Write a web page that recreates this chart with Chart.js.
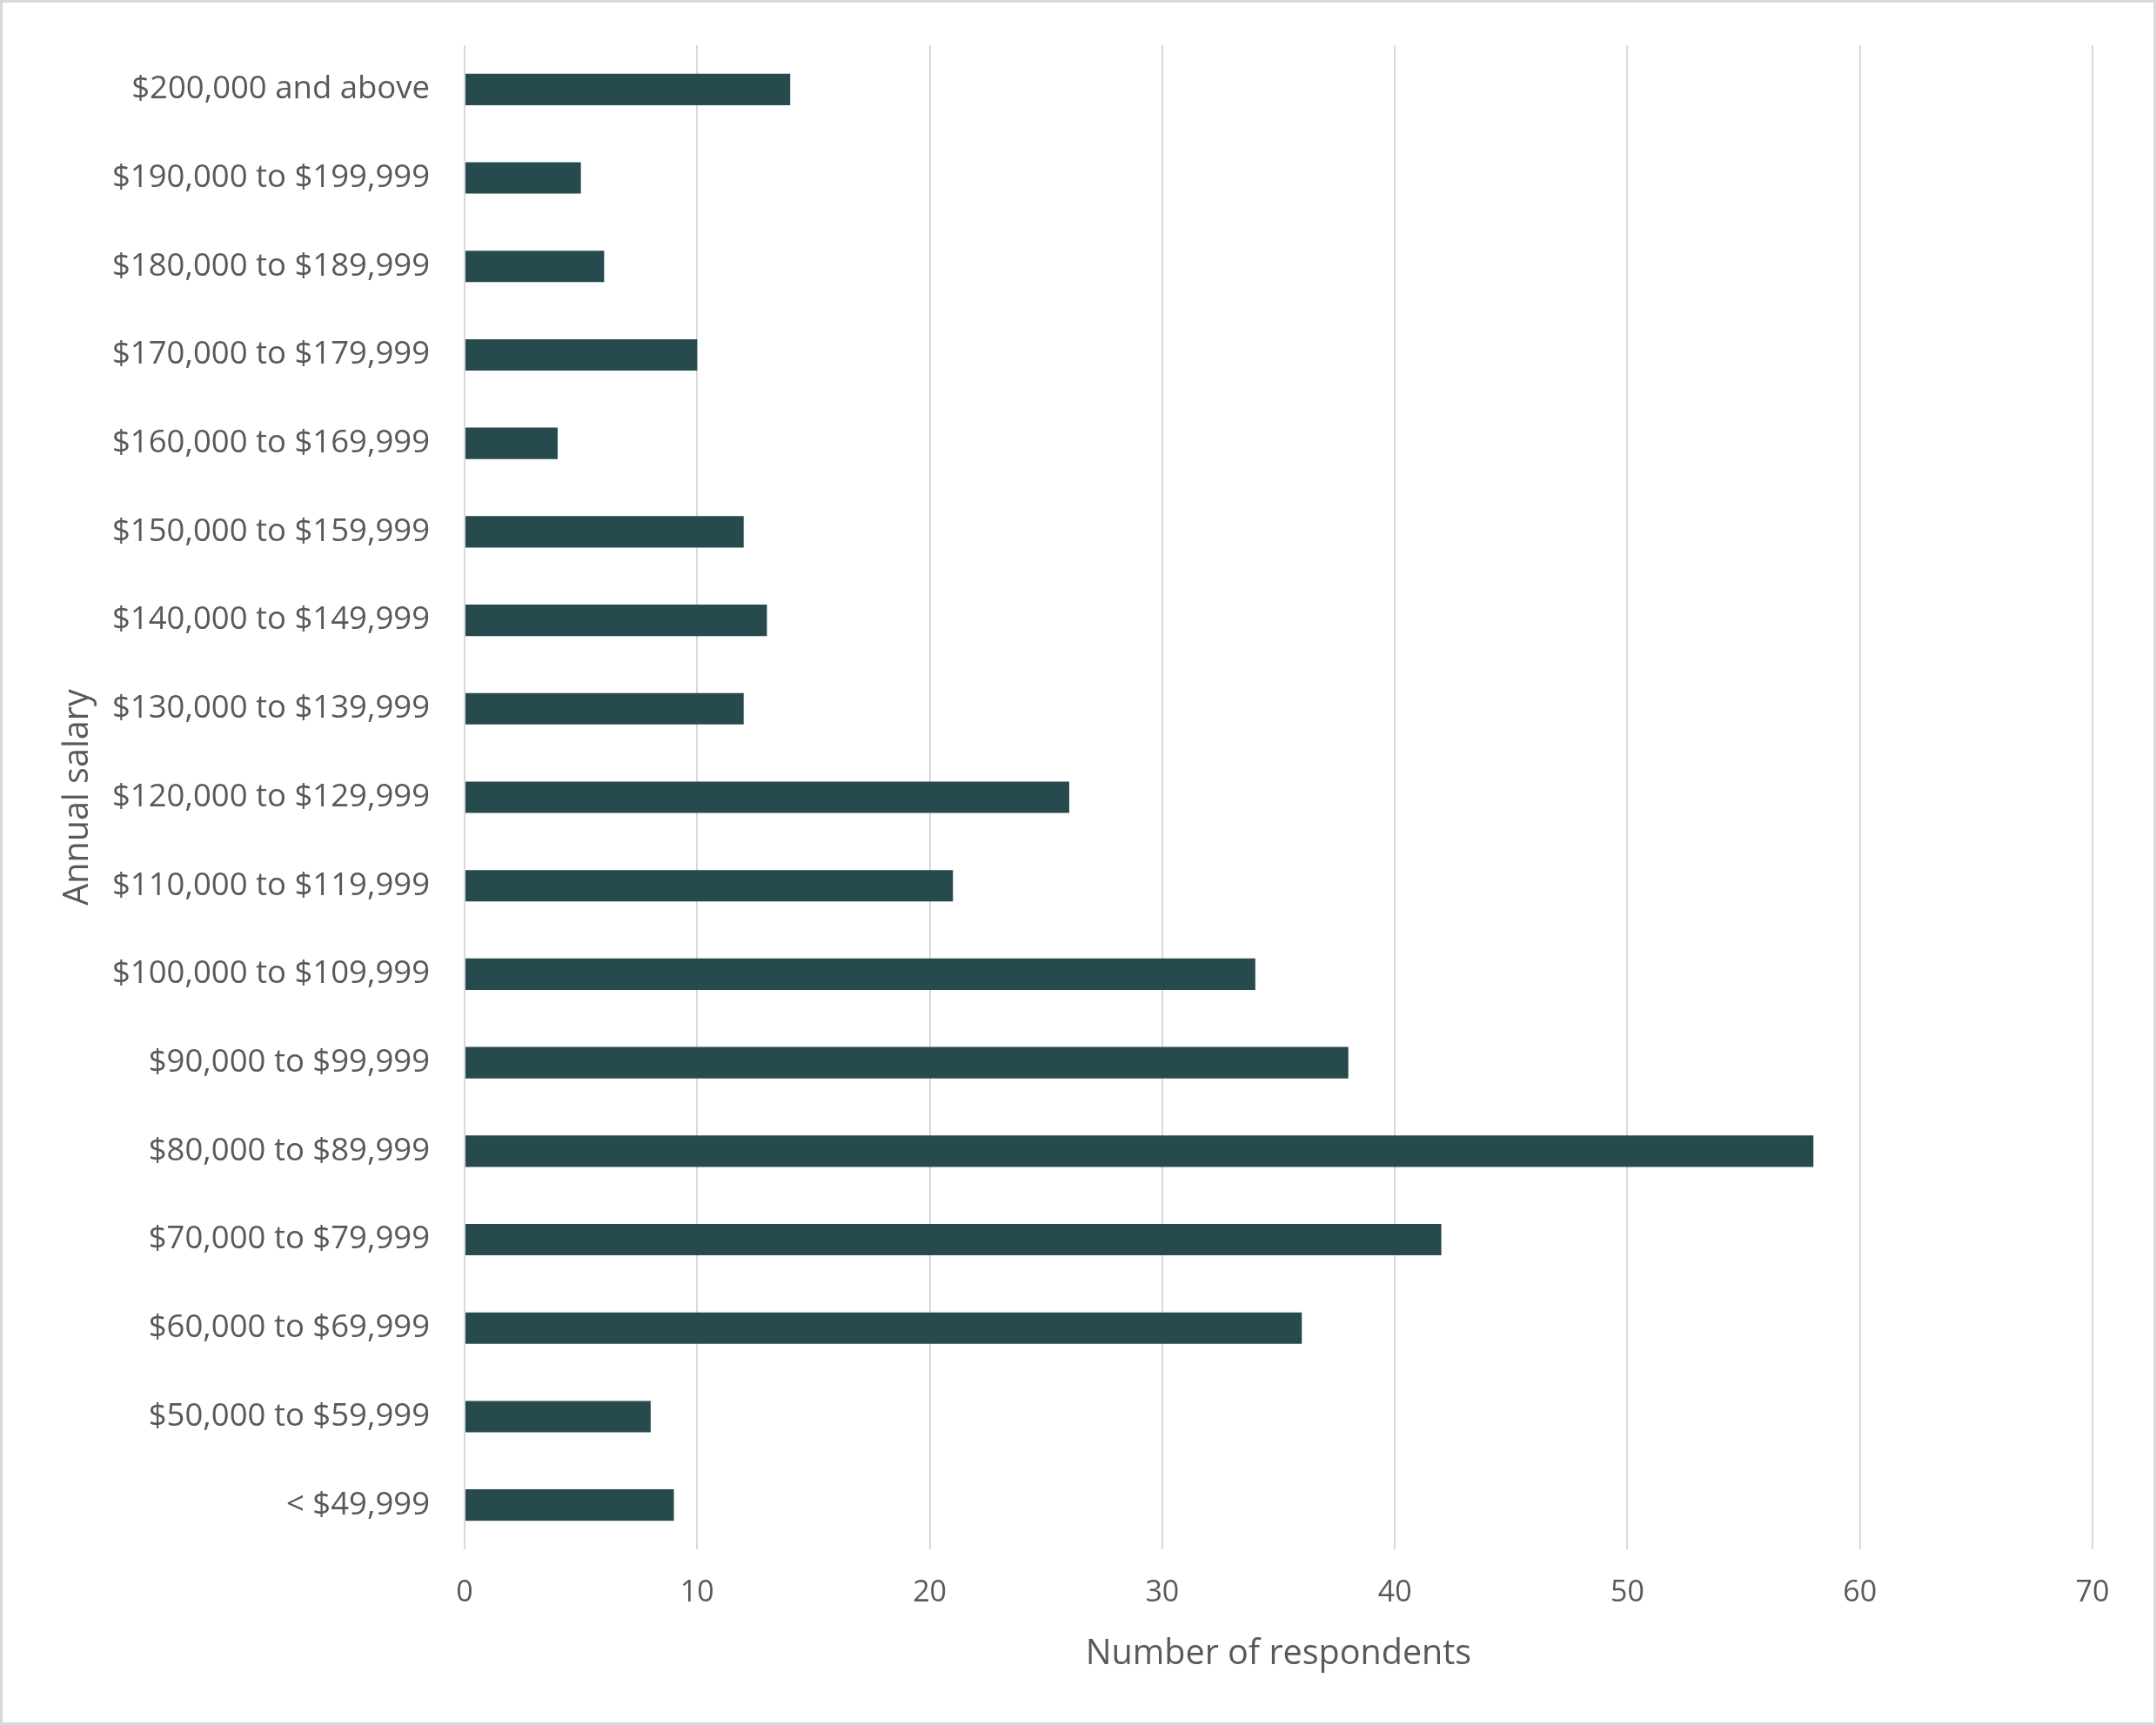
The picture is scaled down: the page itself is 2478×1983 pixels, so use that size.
<!DOCTYPE html>
<html>
<head>
<meta charset="utf-8">
<script src="https://cdn.jsdelivr.net/npm/chart.js@4/dist/chart.umd.min.js"></script>
<style>
  html, body { margin: 0; padding: 0; background: #fff; }
  #wrap { position: relative; width: 2478px; height: 1983px; }
  #frame { position: absolute; left: 0; top: 0; width: 2478px; height: 1983px; box-sizing: border-box; border: 3px solid #d9d9d9; pointer-events: none; }
  canvas { position: absolute; left: 0; top: 0; }
</style>
</head>
<body>
<div id="wrap">
  <canvas id="salaryChart" width="2478" height="1983"></canvas>
  <div id="frame"></div>
</div>
<script>
// salary bands, bottom to top as in the chart
const salaryBands = [
  '< $49,999', '$50,000 to $59,999', '$60,000 to $69,999', '$70,000 to $79,999',
  '$80,000 to $89,999', '$90,000 to $99,999', '$100,000 to $109,999', '$110,000 to $119,999',
  '$120,000 to $129,999', '$130,000 to $139,999', '$140,000 to $149,999', '$150,000 to $159,999',
  '$160,000 to $169,999', '$170,000 to $179,999', '$180,000 to $189,999', '$190,000 to $199,999',
  '$200,000 and above'
];
const respondents = [9, 8, 36, 42, 58, 38, 34, 21, 26, 12, 13, 12, 4, 10, 6, 5, 14];
const xTicks = [0, 10, 20, 30, 40, 50, 60, 70];

const textColor = '#595959';
const fontFamily = '"Open Sans", "Noto Sans", sans-serif';

const ctx = document.getElementById('salaryChart').getContext('2d');
new Chart(ctx, {
  type: 'bar',
  data: {
    labels: salaryBands,
    datasets: [{
      label: 'Respondents',
      data: respondents,
      backgroundColor: '#264a4d',
      borderWidth: 0,
      categoryPercentage: 1,
      barPercentage: 0.355
    }]
  },
  options: {
    indexAxis: 'y',
    responsive: false,
    animation: false,
    devicePixelRatio: 1,
    layout: { padding: { top: 52, right: 73, left: 0, bottom: 0 } },
    scales: {
      x: {
        min: 0,
        max: 70,
        afterBuildTicks: scale => { scale.ticks = xTicks.map(v => ({ value: v })); },
        grid: { color: '#d9d9d9', lineWidth: 2, drawTicks: false },
        border: { display: false },
        ticks: { color: textColor, padding: 30, font: { family: fontFamily, size: 34 } },
        title: {
          display: true,
          text: 'Number of respondents',
          color: textColor,
          font: { family: fontFamily, size: 39.5 },
          padding: { top: 0, bottom: 58 }
        },
        afterFit: scale => { scale.height = 202; }
      },
      y: {
        reverse: true,
        grid: { display: false, drawTicks: false },
        border: { display: false },
        ticks: { color: textColor, padding: 40, font: { family: fontFamily, size: 36.5 } },
        title: {
          display: true,
          text: 'Annual salary',
          color: textColor,
          font: { family: fontFamily, size: 39.5 },
          padding: { top: 66, bottom: 0 }
        },
        afterFit: scale => {
          scale.width = 534;
          // labels sit inside the category bands, no extra room needed above/below
          scale.paddingTop = 0;
          scale.paddingBottom = 0;
        }
      }
    },
    plugins: {
      legend: { display: false },
      tooltip: { enabled: false }
    }
  }
});
</script>
</body>
</html>
